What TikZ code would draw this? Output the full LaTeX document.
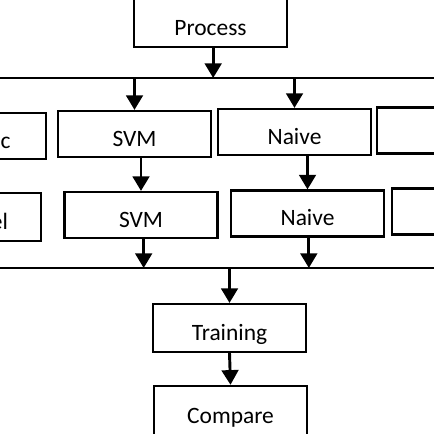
\documentclass[tikz,border=0pt]{standalone}
\usepackage{fontspec}
\setmainfont{Carlito}
\usetikzlibrary{arrows.meta}

\tikzset{every picture/.style={line width=0.75pt}}
\tikzset{
	stage/.style={draw, line width=1.6pt, minimum width=114.75pt, minimum height=34.5pt, inner sep=0pt, text height=18.5pt, text depth=0pt, font=\fontsize{17.6}{20}\selectfont},
	stagetext/.style={inner sep=0pt, text height=18.5pt, text depth=0pt, font=\fontsize{17.6}{20}\selectfont},
	flow/.style={line width=2.2pt, -{Triangle[width=12.5pt,length=11pt]}},
	bus/.style={line width=1.3pt}}

\begin{document}
\begin{tikzpicture}[x=0.75pt,y=0.75pt,yscale=-1,xscale=1]
	\useasboundingbox (0,0) rectangle (434,434);
	\clip (0,0) rectangle (434,434);

	%Shape: Rectangle [top]
	\node[stage, minimum height=36pt] (proc) at (210.5,23) {Process};
	%Shape: Rectangle [row one]
	\node[stage] (leftA) at (-30.5,136) {};
	\node[stage] (svmA) at (134.5,134) {SVM};
	\node[stage] (naiveA) at (294.5,132) {Naive};
	\node[stage] (rightA) at (453.5,130.5) {};
	%Shape: Rectangle [row two]
	\node[stage, minimum height=36pt] (leftB) at (-35.5,217) {};
	\node[stage] (svmB) at (141,215) {SVM};
	\node[stage] (naiveB) at (307.5,213.5) {Naive};
	\node[stage] (rightB) at (468.5,211.5) {};
	%Shape: Rectangle [bottom]
	\node[stage, minimum height=36pt] (train) at (229.5,328) {Training};
	\node[stage, minimum height=40pt, text height=16pt] (cmp) at (230.5,412.5) {Compare};

	% Text Node
	\node[stagetext] (leftAtxt) at (5.5,136) {c};
	% Text Node
	\node[stagetext] (leftBtxt) at (-0.5,217) {el};

	%Straight Lines
	\coordinate (busAL) at (-10,78);
	\coordinate (busAR) at (444,78);
	\coordinate (busBL) at (-10,268);
	\coordinate (busBR) at (444,268);
	\draw[bus] (busAL) -- (busAR);
	\draw[bus] (busBL) -- (busBR);

	%Arrows
	\draw[flow] ([xshift=2pt]proc.south) -- ([xshift=2pt]proc.south |- busAL);
	\draw[flow] (svmA.north |- busAL) -- (svmA.north);
	\draw[flow] (naiveA.north |- busAL) -- (naiveA.north);
	\draw[flow] (svmB.north |- svmA.south) -- (svmB.north);
	\draw[flow] (naiveB.north |- naiveA.south) -- (naiveB.north);
	\draw[flow] ([xshift=2pt]svmB.south) -- ([xshift=2pt]svmB.south |- busBL);
	\draw[flow] ([xshift=1pt]naiveB.south) -- ([xshift=1pt]naiveB.south |- busBL);
	\draw[flow] (train.north |- busBL) -- (train.north);
	\draw[flow] (train.south) -- (cmp.north);

\end{tikzpicture}
\end{document}
